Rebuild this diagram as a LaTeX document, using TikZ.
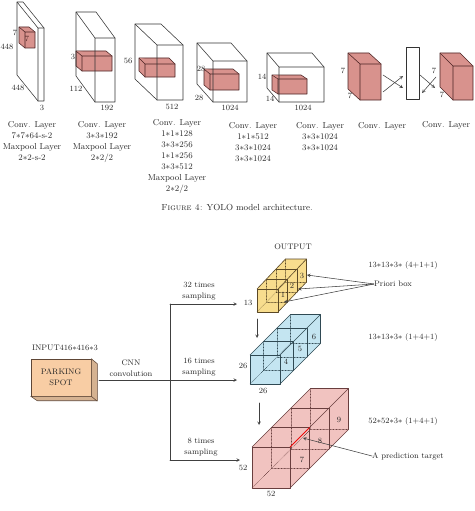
\documentclass[tikz,border=0pt]{standalone}
\usetikzlibrary{arrows}
\definecolor{redfill}{HTML}{D8928D}
\definecolor{redline}{HTML}{4A2222}
\definecolor{yelfill}{HTML}{F8DD8E}
\definecolor{yelline}{HTML}{5A4826}
\definecolor{bluefill}{HTML}{C4E5F1}
\definecolor{blueline}{HTML}{2F4953}
\definecolor{pinkfill}{HTML}{F1C3C0}
\definecolor{pinkline}{HTML}{693E3E}
\definecolor{infill}{HTML}{F8CDA4}
\definecolor{inline}{HTML}{5E4636}
\newcommand{\tms}{$\ast$}
% box seen from the front, back face up and left
\newcommand{\solidbox}[7]{%
  \draw[#1] (#2+#6,#3+#7) -- (#4+#6,#3+#7) -- (#4,#3) -- (#4,#5) -- (#2,#5) -- (#2+#6,#5+#7) -- cycle;
  \draw[#1] (#2+#6,#3+#7) -- (#2,#3) -- (#4,#3) (#2,#3) -- (#2,#5);
}
% row of three cubes going back to the right
\newcommand{\cuberow}[7]{%
  \fill[#1fill] (#2,#3) -- ++(3*#6,-3*#7) -- ++(#4,0) -- ++(0,#5) -- ++(-3*#6,3*#7) -- ++(-#4,0) -- cycle;
  \foreach \j in {1,2,3} \draw[#1line, hiddenline] (#2+\j*#6,#3-\j*#7) -- ++(0,#5) -- ++(#4,0);
  \draw[#1line, hiddenline] (#2,#3+#5) -- ++(3*#6,-3*#7);
  \draw[#1line, cubeline] (#2,#3) rectangle ++(#4,#5);
  \draw[#1line, cubeline] (#2,#3) -- ++(3*#6,-3*#7) -- ++(#4,0) -- ++(0,#5) -- ++(-3*#6,3*#7);
  \draw[#1line, cubeline] (#2+#4,#3) -- ++(3*#6,-3*#7);
  \foreach \j in {1,2} \draw[#1line, cubeline] (#2+\j*#6,#3-\j*#7) -- ++(#4,0) -- ++(0,#5);
}
\begin{document}
\begin{tikzpicture}[x=1pt, y=-1pt, font=\fontsize{8}{11}\selectfont, line join=round, line cap=round, >=stealth,
    wire/.style={draw=black!80, line width=0.55pt},
    redbox/.style={fill=redfill, draw=redline, line width=0.55pt},
    hiddenline/.style={densely dotted, line width=0.45pt},
    cubeline/.style={line width=0.6pt},
    lbl/.style={inner sep=0pt, text=black!85},
    col/.style={anchor=north, align=center, inner sep=0pt, text=black!85, font=\fontsize{8.6}{11}\selectfont},
    link/.style={draw=black!75, line width=0.55pt}]
\useasboundingbox (0,0) rectangle (474,511);

% YOLO model architecture
\solidbox{redbox}{25}{32}{35}{48}{-6}{-5}
\solidbox{wire}{38}{28}{44}{101}{-21}{-26}
\solidbox{redbox}{82}{56}{112}{71}{-6}{-5}
\solidbox{wire}{95}{38}{115}{102}{-19}{-26}
\solidbox{redbox}{145}{64}{175}{77}{-6}{-6}
\solidbox{wire}{157}{45}{183}{100}{-22}{-21}
\solidbox{redbox}{210}{74}{239}{90}{-6}{-5}
\solidbox{wire}{213}{61}{247}{102}{-16}{-18}
\solidbox{redbox}{278}{79}{307}{94}{-6}{-4}
\solidbox{wire}{279}{67}{324}{102}{-12}{-14}
\solidbox{redbox}{360}{64}{381}{100}{-12}{-11}
\solidbox{redbox}{453}{66}{473}{100}{-13}{-13}
\draw[wire] (406,47) rectangle (419,99);
%\draw[thin,gray!40] (0,0) grid[step=20] (474,511);

\node[lbl] (k1a) at (15,33) {7};
\node[lbl, text=redline] (k1b) at (27,39) {7};
\node[lbl] (h1) at (7,47) {448};
\node[lbl] (w1) at (18,88) {448};
\node[lbl] (d1) at (42,108) {3};
\node[lbl] (k2) at (73,57) {3};
\node[lbl] (w2) at (76,89) {112};
\node[lbl] (d2) at (107,108) {192};
\node[lbl] (h3) at (128,61) {56};
\node[lbl] (d3) at (172,107) {512};
\node[lbl] (h4) at (201,69) {28};
\node[lbl] (w4) at (199,98) {28};
\node[lbl] (d4) at (230,108) {1024};
\node[lbl] (h5) at (262,77) {14};
\node[lbl] (w5) at (270,99) {14};
\node[lbl] (d5) at (303,108) {1024};
\node[lbl] (h6) at (343,71) {7};
\node[lbl] (w6) at (350,96) {7};
\node[lbl] (h7) at (434,71) {7};
\node[lbl] (w7) at (442,95) {7};

\coordinate (xa1) at (383,75); \coordinate (xa2) at (403,88);
\coordinate (xb1) at (383,92); \coordinate (xb2) at (403,76);
\coordinate (ya1) at (420,75); \coordinate (ya2) at (435,88);
\coordinate (yb1) at (436,77); \coordinate (yb2) at (422,93);
\draw[link,->] (xa1) -- (xa2);
\draw[link,->] (xb1) -- (xb2);
\draw[link,->] (ya1) -- (ya2);
\draw[link,->] (yb1) -- (yb2);

\node[col] (c1) at (32,121) {Conv. Layer\\7\tms7\tms64-s-2\\Maxpool Layer\\2\tms2-s-2};
\node[col] (c2) at (102,121) {Conv. Layer\\3\tms3\tms192\\Maxpool Layer\\2\tms2/2};
\node[col] (c3) at (177,119) {Conv. Layer\\1\tms1\tms128\\3\tms3\tms256\\1\tms1\tms256\\3\tms3\tms512\\Maxpool Layer\\2\tms2/2};
\node[col] (c4) at (253,122) {Conv. Layer\\1\tms1\tms512\\3\tms3\tms1024\\3\tms3\tms1024};
\node[col] (c5) at (320,122) {Conv. Layer\\3\tms3\tms1024\\3\tms3\tms1024};
\node[col] (c6) at (382,122) {Conv. Layer};
\node[col] (c7) at (446,121) {Conv. Layer};
\node[lbl, font=\fontsize{8.8}{10}\selectfont] (cap4) at (237,207) {\textsc{Figure 4:} YOLO model architecture.};

% detection outputs
\cuberow{yel}{257}{289}{21}{23}{9.5}{10}
\cuberow{blue}{250}{355}{30}{29}{13.5}{13.5}
\cuberow{pink}{252}{447}{38}{41}{19.5}{19.5}
\draw[red, line width=0.7pt] (290,447) -- ++(19.5,-19.5);

\node[lbl] (out) at (293,247) {OUTPUT};
\node[lbl] (n1) at (283,295) {1};
\node[lbl] (n2) at (292,286) {2};
\node[lbl] (n3) at (302,276) {3};
\node[lbl] (n4) at (286,362) {4};
\node[lbl] (n5) at (300,349) {5};
\node[lbl] (n6) at (314,337) {6};
\node[lbl] (n7) at (302,460) {7};
\node[lbl] (n8) at (320,441) {8};
\node[lbl] (n9) at (339,420) {9};
\node[lbl] (s13) at (248,303) {13};
\node[lbl] (s26a) at (243,366) {26};
\node[lbl] (s26b) at (263,391) {26};
\node[lbl] (s52a) at (243,468) {52};
\node[lbl] (s52b) at (271,494) {52};

\node[lbl] (f13) at (403,265) {13\tms13\tms3\tms\ (4+1+1)};
\node[lbl] (priori) at (393,284) {Priori box};
\node[lbl] (f26) at (403,337) {13\tms13\tms3\tms\ (1+4+1)};
\node[lbl] (f52) at (403,421) {52\tms52\tms3\tms\ (1+4+1)};
\node[lbl] (target) at (408,456) {A prediction target};

\coordinate (p1) at (284,302);
\coordinate (p2) at (298,289);
\coordinate (p3) at (307,275);
\draw[link,->] (priori.west) -- (p1);
\draw[link,->] (priori.west) -- (p2);
\draw[link,->] (priori.west) -- (p3);
\coordinate (ptgt) at (303,438);
\draw[link,->] (target.west) -- (ptgt);

\coordinate (dn1a) at (257,319); \coordinate (dn1b) at (257,338);
\coordinate (dn2a) at (259,403); \coordinate (dn2b) at (259,425);
\draw[link,->] (dn1a) -- (dn1b);
\draw[link,->] (dn2a) -- (dn2b);

% input and sampling branches
\node[lbl] (inlbl) at (65,348) {INPUT416\tms416\tms3};
\node[draw=inline, fill=infill, line width=0.55pt, minimum width=60pt, minimum height=37pt,
      inner sep=0pt, align=center, text=black!85] (input) at (61,377.5) {PARKING\\SPOT};
\filldraw[draw=inline, fill=infill!85!black!95, line width=0.55pt] (input.north east) -- ++(6,5) -- ++(0,37)
   -- ++(-60,0) -- (input.south west) -- (input.south east) -- cycle;
\draw[inline, line width=0.55pt] (input.south east) -- ++(6,5);

\node[lbl, align=center] (cnn) at (131,368.5) {CNN\\convolution};
\node[lbl, align=center] (t32) at (199,291.5) {32 times\\sampling};
\node[lbl, align=center] (t16) at (199,367) {16 times\\sampling};
\node[lbl, align=center] (t8) at (201,447.5) {8 times\\sampling};

\coordinate (cnnstart) at (99,380);
\coordinate (trunk32) at (170,304);
\coordinate (trunk8) at (170,460);
\coordinate (a13) at (237,304);
\coordinate (a26) at (237,380);
\coordinate (a52) at (240,460);
\draw[link] (trunk32) -- (trunk8);
\draw[link,->] (trunk32) -- (a13);
\draw[link,->] (cnnstart) -- (a26);
\draw[link,->] (trunk8) -- (a52);
\end{tikzpicture}
\end{document}
